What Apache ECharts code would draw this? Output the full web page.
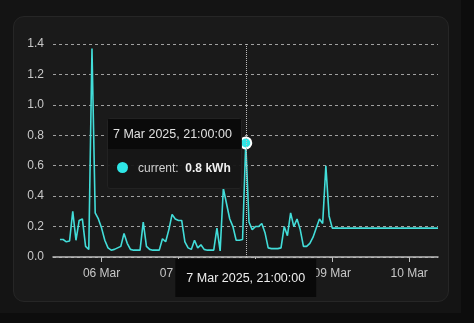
<!DOCTYPE html>
<html>
<head>
<meta charset="utf-8">
<script src="https://cdn.jsdelivr.net/npm/echarts@6/dist/echarts.min.js"></script>
<style>
  html, body { margin: 0; padding: 0; background: #0d0d0d; }
  #outer { position: absolute; left: 0; top: 0; width: 461px; height: 313px; background: #141414; }
  #card { position: absolute; left: 13px; top: 16px; width: 434px; height: 284px; background: #1a1a1a; border: 1px solid #262626; border-radius: 11px; }
  #chart { position: absolute; left: 0; top: 0; width: 474px; height: 323px; }
</style>
</head>
<body>
<div id="outer"></div>
<div id="card"></div>
<div id="chart"></div>
<script>
// Hourly readings (kWh), starting 5 Mar 2025 11:00 local time
const startTime = [2025, 2, 5, 11];
const mar05 = [0.115, 0.115, 0.10, 0.105, 0.30, 0.11, 0.24, 0.25, 0.07, 0.05, 1.37, 0.29, 0.25];
const mar06 = [0.19, 0.11, 0.06, 0.045, 0.05, 0.06, 0.07, 0.155, 0.09, 0.05, 0.045, 0.045,
               0.045, 0.23, 0.07, 0.05, 0.045, 0.045, 0.045, 0.12, 0.10, 0.18, 0.28, 0.25];
const mar07 = [0.24, 0.24, 0.10, 0.06, 0.05, 0.11, 0.06, 0.08, 0.05, 0.045, 0.045, 0.045,
               0.19, 0.04, 0.45, 0.35, 0.25, 0.20, 0.11, 0.11, 0.115, 0.75, 0.23, 0.18];
const mar08 = [0.20, 0.20, 0.22, 0.16, 0.06, 0.055, 0.055, 0.055, 0.06, 0.20, 0.14, 0.29,
               0.20, 0.25, 0.18, 0.07, 0.07, 0.09, 0.13, 0.19, 0.25, 0.22, 0.60, 0.27];
const mar09 = [0.19, 0.19, 0.19, 0.19, 0.19, 0.19, 0.19, 0.19, 0.19, 0.19, 0.19, 0.19,
               0.19, 0.19, 0.19, 0.19, 0.19, 0.19, 0.19, 0.19, 0.19, 0.19, 0.19, 0.19];
const mar10 = [0.19, 0.19, 0.19, 0.19, 0.19, 0.19, 0.19, 0.19, 0.19, 0.19];
const yTicks = [0.0, 0.2, 0.4, 0.6, 0.8, 1.0, 1.2, 1.4];
const seriesName = 'current';
const unit = 'kWh';
const hoverTime = [2025, 2, 7, 21];

const values = [].concat(mar05, mar06, mar07, mar08, mar09, mar10);
const t0 = new Date(startTime[0], startTime[1], startTime[2], startTime[3]).getTime();
const HOUR = 3600000;
const data = values.map((v, i) => [t0 + i * HOUR, v]);

const months = ['Jan','Feb','Mar','Apr','May','Jun','Jul','Aug','Sep','Oct','Nov','Dec'];
const pad = n => (n < 10 ? '0' : '') + n;
function fullFmt(ts) {
  const d = new Date(ts);
  return d.getDate() + ' ' + months[d.getMonth()] + ' ' + d.getFullYear() + ', ' +
    pad(d.getHours()) + ':' + pad(d.getMinutes()) + ':' + pad(d.getSeconds());
}

const axisMin = new Date(2025, 2, 5, 8, 50).getTime();
const axisMax = data[data.length - 1][0];

const chart = echarts.init(document.getElementById('chart'), null, { renderer: 'canvas' });
chart.setOption({
  backgroundColor: 'transparent',
  animation: false,
  textStyle: { fontFamily: 'Liberation Sans, Arial, sans-serif' },
  grid: { left: 53, right: 36, top: 44, bottom: 66, containLabel: false },
  tooltip: {
    trigger: 'axis',
    position: [107, 118],
    padding: 0,
    backgroundColor: 'rgba(22,22,22,0.95)',
    borderColor: '#222',
    borderWidth: 1,
    borderRadius: 3,
    extraCssText: 'box-shadow:none;',
    axisPointer: {
      type: 'line',
      lineStyle: { color: '#bdbdbd', type: 'dotted', width: 1 }
    },
    formatter: function (params) {
      const p = params[0];
      return '<div style="font-family:Liberation Sans,Arial,sans-serif;width:133px;">' +
        '<div style="background:#0a0a0a;color:#e0e0e0;font-size:12.5px;padding:8px 0 8px 5px;line-height:14px;white-space:nowrap;">' +
        fullFmt(p.value[0]) + '</div>' +
        '<div style="padding:11px 0 12px 9px;font-size:12px;color:#d0d0d0;line-height:16px;white-space:nowrap;">' +
        '<span style="display:inline-block;width:11px;height:11px;border-radius:50%;background:#2ee6e6;vertical-align:-1px;margin-right:10px;"></span>' +
        seriesName + ':&nbsp; <b style="color:#f0f0f0;">' + p.value[1].toFixed(1) + ' ' + unit + '</b></div></div>';
    }
  },
  xAxis: {
    type: 'time',
    min: axisMin,
    max: axisMax,
    minInterval: 24 * HOUR,
    maxInterval: 24 * HOUR,
    axisLine: { lineStyle: { color: '#bdbdbd', width: 1.5 } },
    axisTick: { show: true, length: 5, lineStyle: { color: '#bdbdbd' } },
    axisLabel: {
      color: '#c8c8c8', fontSize: 12, margin: 11,
      formatter: function (v) { const d = new Date(v); return pad(d.getDate()) + ' ' + months[d.getMonth()]; }
    },
    splitLine: { show: false },
    axisPointer: {
      show: true,
      lineStyle: { color: '#bdbdbd', type: 'dotted', width: 1 },
      label: {
        show: true,
        backgroundColor: '#090909',
        color: '#eeeeee',
        fontSize: 12.5,
        padding: [13, 11, 12, 11],
        borderRadius: 0,
        margin: 2,
        formatter: function (p) { return fullFmt(p.value); }
      }
    }
  },
  yAxis: {
    type: 'value',
    min: yTicks[0],
    max: yTicks[yTicks.length - 1],
    interval: 0.2,
    axisLine: { show: false },
    axisTick: { show: false },
    axisLabel: { color: '#c8c8c8', fontSize: 12, margin: 9, formatter: v => v.toFixed(1) },
    splitLine: { lineStyle: { color: '#a0a0a0', type: [3, 3], width: 1 } }
  },
  series: [{
    name: seriesName,
    type: 'line',
    data: data,
    showSymbol: false,
    symbol: 'circle',
    symbolSize: 11,
    lineStyle: { color: '#3cc9c6', width: 1.6 },
    itemStyle: { color: '#2ee6e6', borderColor: '#ffffff', borderWidth: 2 },
    emphasis: { scale: false, itemStyle: { color: '#2ee6e6', borderColor: '#ffffff', borderWidth: 2 } }
  }]
});

const hoverTs = new Date(hoverTime[0], hoverTime[1], hoverTime[2], hoverTime[3]).getTime();
const hoverIdx = data.findIndex(d => d[0] === hoverTs);
chart.dispatchAction({ type: 'showTip', seriesIndex: 0, dataIndex: hoverIdx });
</script>
</body>
</html>
